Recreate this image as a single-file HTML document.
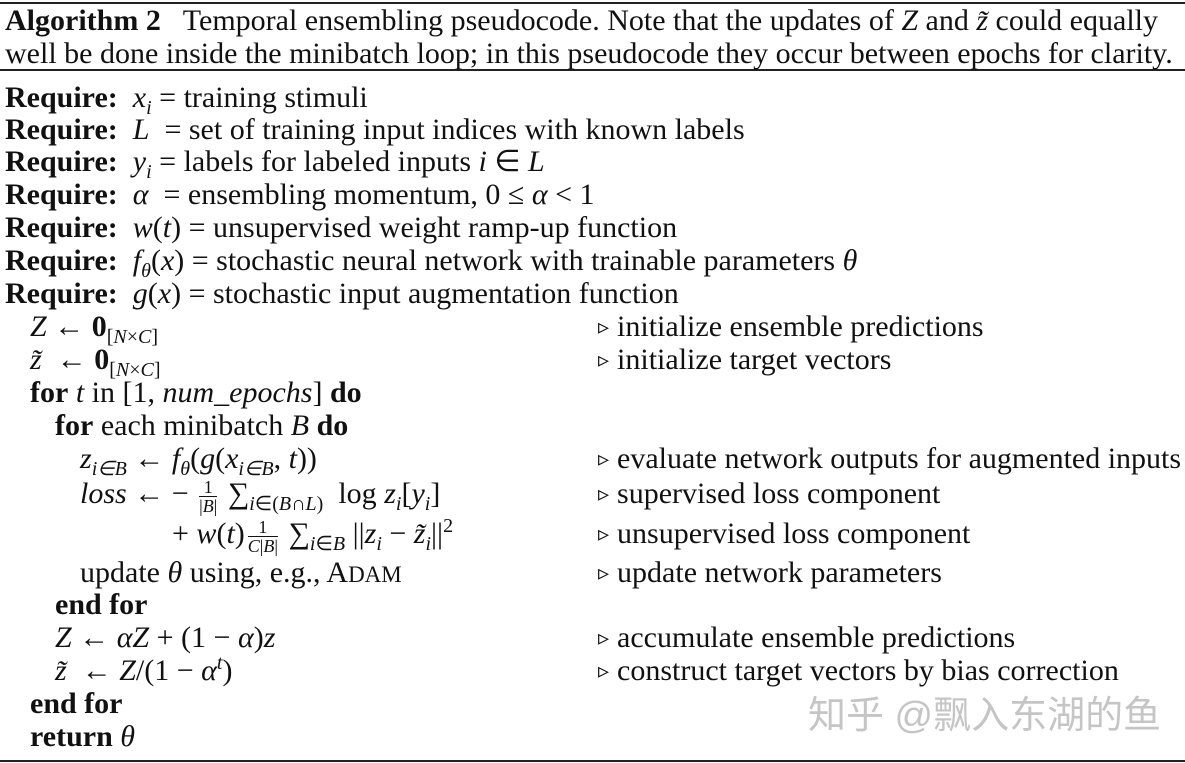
<!DOCTYPE html>
<html><head><meta charset="utf-8"><style>
body{margin:0;width:1185px;height:763px;background:#fff;position:relative;overflow:hidden;font-family:"Liberation Serif",serif;color:#111;}
.l{position:absolute;font-size:30px;line-height:33px;white-space:nowrap;}
i{font-style:italic}
b{font-weight:bold}
sub,sup{font-size:20px;line-height:0}
.c{position:absolute;left:598px;font-size:30px;line-height:33px;white-space:nowrap}
.c:before{content:"▹";font-size:22px;margin-right:8px;vertical-align:2px}
.rule{position:absolute;left:0;width:1185px;background:#222}
.fr{display:inline-block;vertical-align:middle;text-align:center;font-size:18px;line-height:18px;margin:0 3px}
.fr span{display:block}
.fr .n{border-bottom:1px solid #111}
</style></head><body>
<div class="rule" style="top:2px;height:2px"></div>
<div class="rule" style="top:69px;height:1.5px"></div>
<div class="rule" style="top:760px;height:1.5px"></div>
<div class="l" style="left:5px;top:4px"><b>Algorithm 2</b>&nbsp;&nbsp; Temporal ensembling pseudocode. Note that the updates of <i>Z</i> and <i>z̃</i> could equally</div>
<div class="l" style="left:5px;top:37px">well be done inside the minibatch loop; in this pseudocode they occur between epochs for clarity.</div>
<div class="l" style="left:5px;top:81px"><b>Require:</b>&nbsp; <i>x<sub>i</sub></i> = training stimuli</div>
<div class="l" style="left:5px;top:113px"><b>Require:</b>&nbsp; <i>L</i>&nbsp; = set of training input indices with known labels</div>
<div class="l" style="left:5px;top:145px"><b>Require:</b>&nbsp; <i>y<sub>i</sub></i> = labels for labeled inputs <i>i</i> ∈ <i>L</i></div>
<div class="l" style="left:5px;top:178px"><b>Require:</b>&nbsp; <i>α</i>&nbsp; = ensembling momentum, 0 ≤ <i>α</i> &lt; 1</div>
<div class="l" style="left:5px;top:211px"><b>Require:</b>&nbsp; <i>w</i>(<i>t</i>) = unsupervised weight ramp-up function</div>
<div class="l" style="left:5px;top:244px"><b>Require:</b>&nbsp; <i>f<sub>θ</sub></i>(<i>x</i>) = stochastic neural network with trainable parameters <i>θ</i></div>
<div class="l" style="left:5px;top:277px"><b>Require:</b>&nbsp; <i>g</i>(<i>x</i>) = stochastic input augmentation function</div>
<div class="l" style="left:30px;top:310px"><i>Z</i> ← <b>0</b><sub>[<i>N</i>×<i>C</i>]</sub></div><div class="c" style="top:310px">initialize ensemble predictions</div>
<div class="l" style="left:30px;top:343px"><i>z̃</i>&nbsp; ← <b>0</b><sub>[<i>N</i>×<i>C</i>]</sub></div><div class="c" style="top:343px">initialize target vectors</div>
<div class="l" style="left:30px;top:376px"><b>for</b> <i>t</i> in [1, <i>num_epochs</i>] <b>do</b></div>
<div class="l" style="left:55px;top:409px"><b>for</b> each minibatch <i>B</i> <b>do</b></div>
<div class="l" style="left:80px;top:442px"><i>z<sub>i∈B</sub></i> ← <i>f<sub>θ</sub></i>(<i>g</i>(<i>x<sub>i∈B</sub></i>, <i>t</i>))</div><div class="c" style="top:442px">evaluate network outputs for augmented inputs</div>
<div class="l" style="left:80px;top:477px"><i>loss</i> ← − <span class="fr"><span class="n">1</span><span>|<i>B</i>|</span></span> ∑<sub><i>i</i>∈(<i>B</i>∩<i>L</i>)</sub>&nbsp; log <i>z<sub>i</sub></i>[<i>y<sub>i</sub></i>]</div><div class="c" style="top:477px">supervised loss component</div>
<div class="l" style="left:172px;top:517px">+ <i>w</i>(<i>t</i>)<span class="fr"><span class="n">1</span><span><i>C</i>|<i>B</i>|</span></span> ∑<sub><i>i</i>∈<i>B</i></sub> ||<i>z<sub>i</sub></i> − <i>z̃<sub>i</sub></i>||<sup>2</sup></div><div class="c" style="top:517px">unsupervised loss component</div>
<div class="l" style="left:80px;top:556px">update <i>θ</i> using, e.g., A<span style="font-size:23px">DAM</span></div><div class="c" style="top:556px">update network parameters</div>
<div class="l" style="left:55px;top:588px"><b>end for</b></div>
<div class="l" style="left:55px;top:621px"><i>Z</i> ← <i>αZ</i> + (1 − <i>α</i>)<i>z</i></div><div class="c" style="top:621px">accumulate ensemble predictions</div>
<div class="l" style="left:55px;top:654px"><i>z̃</i>&nbsp; ← <i>Z</i>/(1 − <i>α<sup>t</sup></i>)</div><div class="c" style="top:654px">construct target vectors by bias correction</div>
<div class="l" style="left:30px;top:687px"><b>end for</b></div>
<div class="l" style="left:30px;top:720px"><b>return</b> <i>θ</i></div>
<div class="l" style="left:808px;top:695px;font-family:'Liberation Sans','Noto Sans CJK SC',sans-serif;font-size:38px;line-height:42px;color:rgba(150,150,150,0.55)">知乎 @飘入东湖的鱼</div>
</body></html>
